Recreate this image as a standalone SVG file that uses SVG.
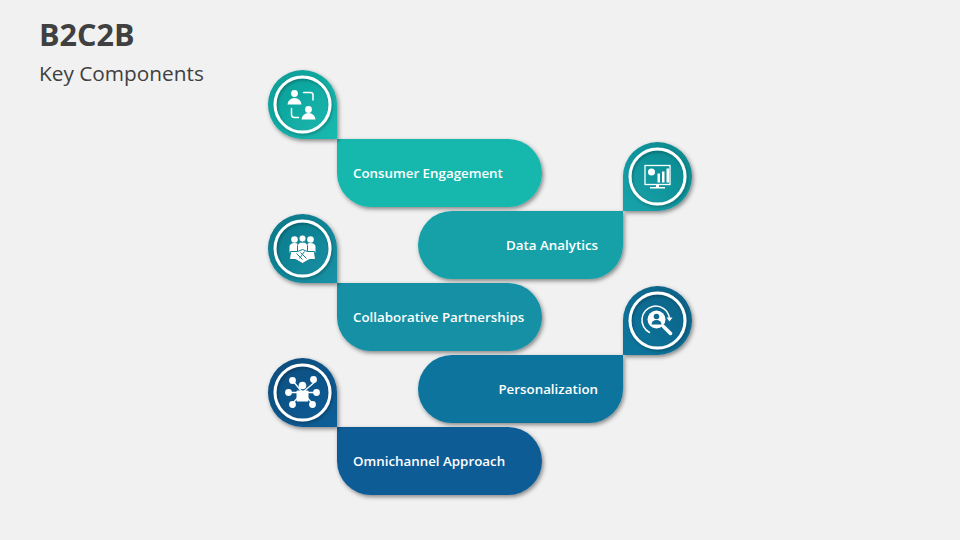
<svg xmlns="http://www.w3.org/2000/svg" width="960" height="540" viewBox="0 0 960 540">
<style>
.t{font-family:"Open Sans","Noto Sans","Liberation Sans",sans-serif;fill:#404040}
.l{font-family:"Open Sans","Noto Sans","Liberation Sans",sans-serif;font-size:13.33px;font-weight:600;fill:#fff}
.ring{fill:none;stroke:#fff;stroke-width:3}
.i{fill:#fff}
.s{fill:none;stroke:#fff;stroke-width:1.5;stroke-linecap:round}
</style>
<defs>
<filter id="sh" x="-20%" y="-20%" width="150%" height="150%"><feDropShadow dx="1.5" dy="2" stdDeviation="2" flood-color="#000" flood-opacity=".45"/></filter>
<filter id="rs" x="-20%" y="-20%" width="140%" height="140%"><feDropShadow dx="1" dy="1.5" stdDeviation="1.5" flood-color="#000" flood-opacity=".3"/></filter>
<linearGradient id="g1" x1="0" y1="0" x2="1" y2="1"><stop offset="0" stop-color="#0f9c96"/><stop offset="1" stop-color="#14bab0"/></linearGradient>
<linearGradient id="g2" x1="1" y1="0" x2="0" y2="1"><stop offset="0" stop-color="#0f878c"/><stop offset="1" stop-color="#13a3ab"/></linearGradient>
<linearGradient id="g3" x1="0" y1="0" x2="1" y2="1"><stop offset="0" stop-color="#0e7888"/><stop offset="1" stop-color="#1492a6"/></linearGradient>
<linearGradient id="g4" x1="1" y1="0" x2="0" y2="1"><stop offset="0" stop-color="#0c6084"/><stop offset="1" stop-color="#10779f"/></linearGradient>
<linearGradient id="g5" x1="0" y1="0" x2="1" y2="1"><stop offset="0" stop-color="#0b4c7c"/><stop offset="1" stop-color="#0f5e98"/></linearGradient>
</defs>
<rect width="960" height="540" fill="#f1f1f1"/>
<text class="t" x="39" y="46" font-size="30.6" font-weight="700">B2C2B</text>
<text class="t" x="39" y="81" font-size="20.8">Key Components</text>

<g id="node-consumer-engagement">
<path d="M337 139H508a34 34 0 0 1 0 68H371a34 34 0 0 1-34-34Z" fill="#13b8ae" filter="url(#sh)"/>
<path d="M337 139H302.500a34.500 34.500 0 1 1 34.500-34.500Z" fill="url(#g1)" filter="url(#sh)"/>
<circle cx="302.500" cy="104.500" r="27.500" class="ring" filter="url(#rs)"/>
<g transform="translate(-.5 -.5)">
<circle cx="295" cy="94" r="3.400" class="i"/><path class="i" d="M288 105a7 6.500 0 0 1 14 0Z"/>
<circle cx="309" cy="110" r="3.400" class="i"/><path class="i" d="M302 120a7 6.500 0 0 1 14 0Z"/>
<path class="s" d="M304 93h7a2.500 2.500 0 0 1 2.500 2.500v5M292 109v6a3 3 0 0 0 3 3h4"/>
</g>
<text class="l" x="353" y="178">Consumer Engagement</text>
</g>

<g id="node-data-analytics">
<path d="M623 211H452a34 34 0 0 0 0 68H589a34 34 0 0 0 34-34Z" fill="#13a1a9" filter="url(#sh)"/>
<path d="M623 211H657.500a34.500 34.500 0 1 0-34.500-34.500Z" fill="url(#g2)" filter="url(#sh)"/>
<circle cx="657.500" cy="176.500" r="27.500" class="ring" filter="url(#rs)"/>
<g transform="translate(.5 -.5)">
<rect x="644.500" y="166" width="25" height="19" fill="none" stroke="#fff" stroke-width="1.300"/>
<circle cx="651" cy="172.500" r="3.500" class="i"/>
<rect x="657" y="174" width="2.500" height="9" class="i"/><rect x="661.500" y="172" width="2.500" height="11" class="i"/><rect x="666" y="169" width="2.500" height="14" class="i"/>
<rect x="655.500" y="185" width="3" height="3" class="i"/><rect x="649.500" y="187.500" width="15" height="1.500" class="i"/>
</g>
<text class="l" x="598" y="250" text-anchor="end">Data Analytics</text>
</g>

<g id="node-collaborative-partnerships">
<path d="M337 283H508a34 34 0 0 1 0 68H371a34 34 0 0 1-34-34Z" fill="#1490a4" filter="url(#sh)"/>
<path d="M337 283H302.500a34.500 34.500 0 1 1 34.500-34.500Z" fill="url(#g3)" filter="url(#sh)"/>
<circle cx="302.500" cy="248.500" r="27.500" class="ring" filter="url(#rs)"/>
<g transform="translate(-.5 -.5)">
<circle cx="295" cy="240" r="3.300" class="i"/><circle cx="311" cy="240" r="3.300" class="i"/>
<path class="i" d="M290 253v-6a5 3.500 0 0 1 10 0v6ZM306 253v-6a5 3.500 0 0 1 10 0v6Z"/>
<path class="i" stroke="#127f91" stroke-width="1" d="M298 253v-7a5 3.500 0 0 1 10 0v7Z"/>
<circle cx="303" cy="239" r="3.500" class="i" stroke="#127f91" stroke-width=".8"/>
<path d="M291 252l-1 8h6l7 4 7-4h6l-1-8h-7l-5-2-5 2Z" fill="#fff" stroke="#127f91" stroke-width="1"/>
<path d="M297 254l6 6M301 253l6 6M305 252l-5 7" stroke="#127f91" stroke-width="1" fill="none"/>
</g>
<text class="l" x="353" y="322">Collaborative Partnerships</text>
</g>

<g id="node-personalization">
<path d="M623 355H452a34 34 0 0 0 0 68H589a34 34 0 0 0 34-34Z" fill="#10759d" filter="url(#sh)"/>
<path d="M623 355H657.500a34.500 34.500 0 1 0-34.500-34.500Z" fill="url(#g4)" filter="url(#sh)"/>
<circle cx="657.500" cy="320.500" r="27.500" class="ring" filter="url(#rs)"/>
<g transform="translate(.5 -.5)">
<circle cx="656" cy="320" r="9" class="i"/>
<circle cx="656" cy="317" r="2.800" fill="#0f6a8f"/><path d="M651 325a5 4.500 0 0 1 10 0Z" fill="#0f6a8f"/>
<path class="s" d="M649 333a14 14 0 0 1 3-26 14 14 0 0 1 17 12"/>
<path class="i" d="M666 318h6l-3 4Z"/>
<path d="M663 327l7 7" stroke="#fff" stroke-width="3.500" stroke-linecap="round"/>
</g>
<text class="l" x="598" y="394" text-anchor="end">Personalization</text>
</g>

<g id="node-omnichannel-approach">
<path d="M337 427H508a34 34 0 0 1 0 68H371a34 34 0 0 1-34-34Z" fill="#0f5c96" filter="url(#sh)"/>
<path d="M337 427H302.500a34.500 34.500 0 1 1 34.500-34.500Z" fill="url(#g5)" filter="url(#sh)"/>
<circle cx="302.500" cy="392.500" r="27.500" class="ring" filter="url(#rs)"/>
<g transform="translate(-.5 -.5)">
<path d="M303 393L293 381M303 393L317 381M303 393H288M303 393H318M303 393L293 404M303 393L313 404" stroke="#fff" stroke-width="1.300"/>
<circle cx="303" cy="386" r="3.800" class="i"/>
<rect x="297" y="391" width="12" height="11" rx="1" class="i"/>
<circle cx="293" cy="381" r="3.400" class="i"/><circle cx="314" cy="380" r="3.400" class="i"/>
<circle cx="289" cy="393" r="3.400" class="i"/><circle cx="317" cy="393" r="3.400" class="i"/>
<circle cx="293" cy="405" r="3.400" class="i"/><circle cx="313" cy="405" r="3.400" class="i"/>
</g>
<text class="l" x="353" y="466">Omnichannel Approach</text>
</g>
</svg>
